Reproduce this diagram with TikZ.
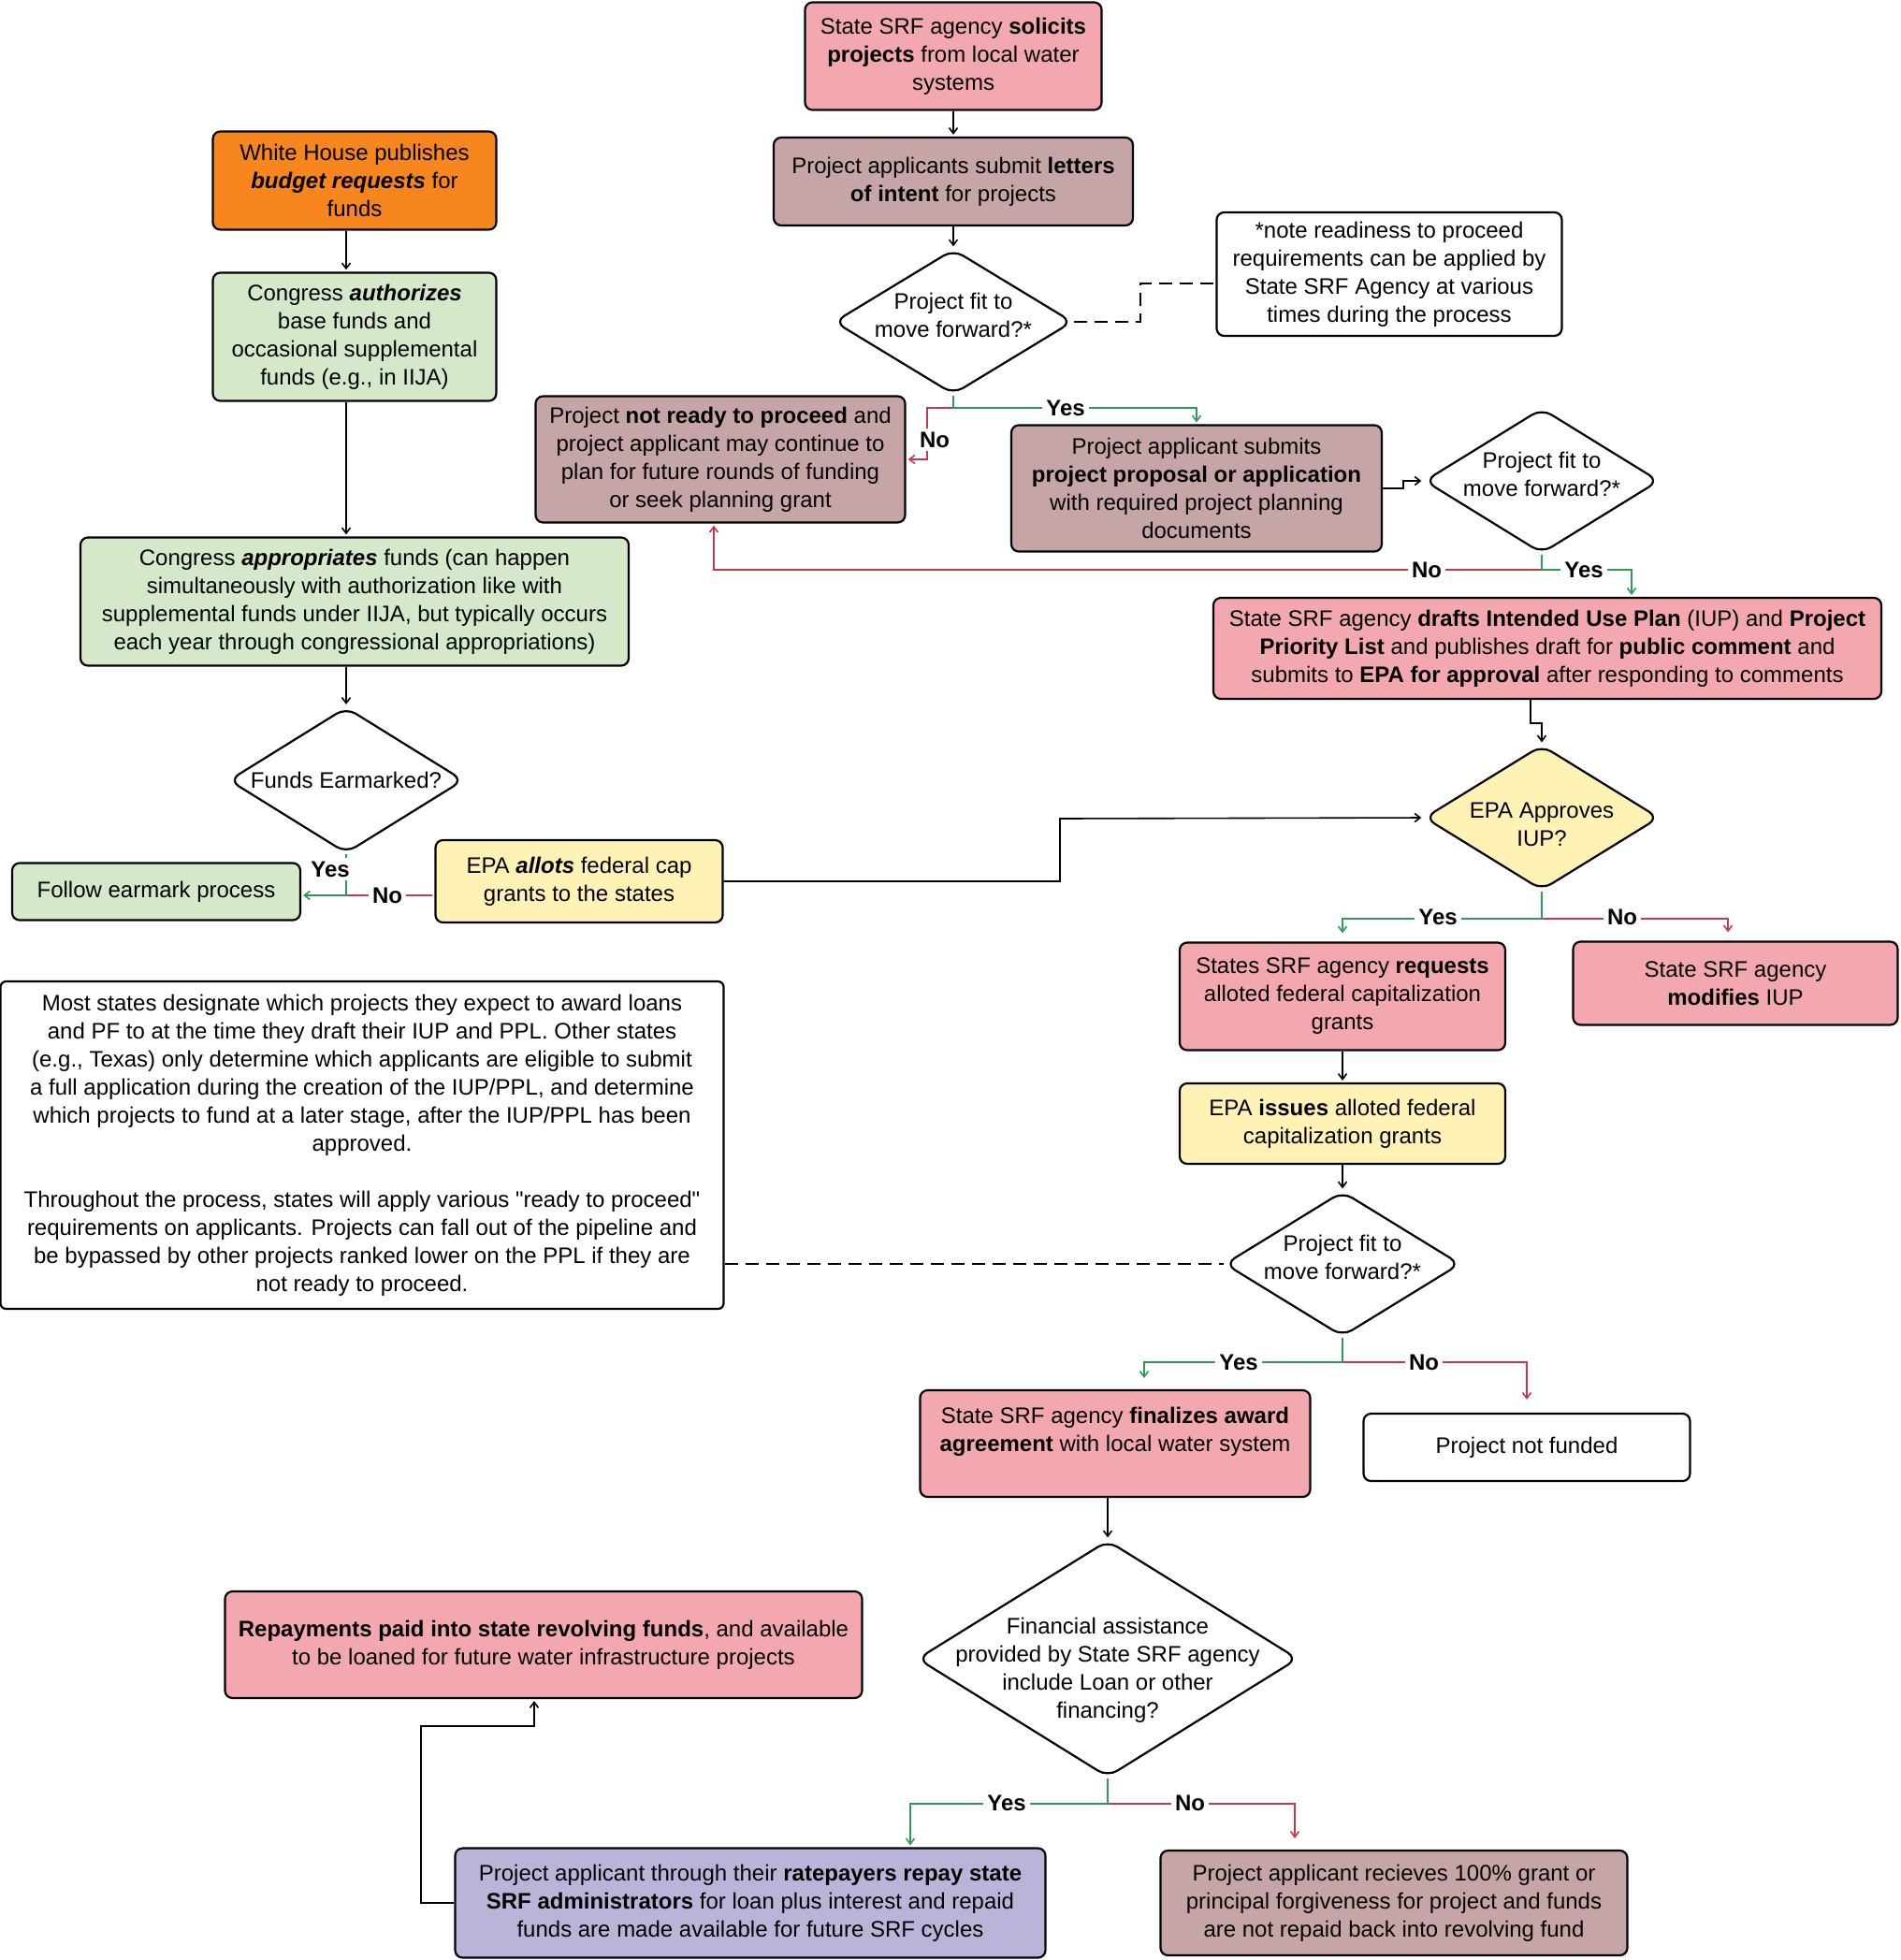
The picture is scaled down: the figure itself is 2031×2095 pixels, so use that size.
\documentclass[tikz,border=0pt]{standalone}
\usepackage{fontspec}
\setmainfont{Liberation Sans}
\usetikzlibrary{shapes.geometric,arrows.meta}
\definecolor{cpink}{HTML}{F2A8AE}
\definecolor{cmauve}{HTML}{C5A5A6}
\definecolor{cgreen}{HTML}{D5E8C9}
\definecolor{cyellow}{HTML}{FFF2B5}
\definecolor{corange}{HTML}{F7861E}
\definecolor{cpurple}{HTML}{BCB4D8}
\definecolor{lgreen}{HTML}{2E9A58}
\definecolor{lred}{HTML}{C23A4B}
\begin{document}
\begin{tikzpicture}[x=0.5pt,y=-0.5pt,
  txt/.style={font=\fontsize{12}{15}\selectfont},
  box/.style={draw=black, line width=1.1pt, rounded corners=4pt, align=center, inner sep=0pt, txt},
  sz/.style 2 args={minimum width=#1*0.5pt, minimum height=#2*0.5pt},
  dia/.style={draw=black, line width=1.1pt, diamond, rounded corners=6pt, inner sep=0pt, fill=white},
  conn/.style={line width=0.8pt, draw=black, shorten >=1pt},
  gline/.style={conn, draw=lgreen},
  rline/.style={conn, draw=lred},
  dline/.style={line width=0.8pt, dash pattern=on 7pt off 4pt},
  tip/.tip={Straight Barb[length=3pt,width=4.5pt]},
  lbl/.style={font=\fontsize{12}{14}\selectfont\bfseries, fill=white, inner sep=2pt}
]
\useasboundingbox (0,0) rectangle (2031,2095);

% ---------- top centre column ----------
\node[box, fill=cpink, sz={317}{115}] (sol) at (1019,60)
  {State SRF agency \textbf{solicits}\\ \textbf{projects} from local water\\ systems};
\node[box, fill=cmauve, sz={384}{94}] (let) at (1019,194)
  {Project applicants submit \textbf{letters}\\ \textbf{of intent} for projects};
\node[dia, sz={255}{155}, label={[txt,align=center,yshift=3.5pt]center:Project fit to\\ move forward?*}] (d1) at (1019,344) {};
\node[box, fill=white, sz={369}{132}] (note) at (1485,293)
  {*note readiness to proceed\\ requirements can be applied by\\ State SRF Agency at various\\ times during the process};
\node[box, fill=cmauve, sz={395}{135}] (nr) at (770,491)
  {Project \textbf{not ready to proceed} and\\ project applicant may continue to\\ plan for future rounds of funding\\ or seek planning grant};
\node[box, fill=cmauve, sz={396}{135}] (prop) at (1279,522)
  {Project applicant submits\\ \textbf{project proposal or application}\\ with required project planning\\ documents};
\node[dia, sz={251}{155}, label={[txt,align=center,yshift=3.5pt]center:Project fit to\\ move forward?*}] (d2) at (1648,514) {};
\node[box, fill=cpink, sz={714}{108}] (iup) at (1654,693)
  {State SRF agency \textbf{drafts Intended Use Plan} (IUP) and \textbf{Project}\\ \textbf{Priority List} and publishes draft for \textbf{public comment} and\\ submits to \textbf{EPA for approval} after responding to comments};
\node[dia, fill=cyellow, sz={251}{155}, label={[txt,align=center,yshift=-3.5pt]center:EPA Approves\\ IUP?}] (d3) at (1648,874) {};

% ---------- left column ----------
\node[box, fill=corange, sz={303}{105}] (wh) at (379,193)
  {White House publishes\\ \textbf{\textit{budget requests}} for\\ funds};
\node[box, fill=cgreen, sz={303}{137}] (ca) at (379,360)
  {Congress \textbf{\textit{authorizes}}\\ base funds and\\ occasional supplemental\\ funds (e.g., in IIJA)};
\node[box, fill=cgreen, sz={586}{137}] (app) at (379,643)
  {Congress \textbf{\textit{appropriates}} funds (can happen\\ simultaneously with authorization like with\\ supplemental funds under IIJA, but typically occurs\\ each year through congressional appropriations)};
\node[dia, sz={251}{156}, label={[txt,align=center]center:Funds Earmarked?}] (fe) at (370,834) {};
\node[box, fill=cgreen, sz={308}{61}] (fol) at (167,953) {Follow earmark process};
\node[box, fill=cyellow, sz={307}{88}] (allot) at (619,942)
  {EPA \textbf{\textit{allots}} federal cap\\ grants to the states};

% ---------- middle right ----------
\node[box, fill=cpink, sz={348}{115}] (req) at (1435,1065)
  {States SRF agency \textbf{requests}\\ alloted federal capitalization\\ grants};
\node[box, fill=cpink, sz={347}{89}] (mod) at (1855,1051)
  {State SRF agency\\ \textbf{modifies} IUP};
\node[box, fill=cyellow, sz={348}{86}] (iss) at (1435,1201)
  {EPA \textbf{issues} alloted federal\\ capitalization grants};
\node[dia, sz={252}{155}, label={[txt,align=center,yshift=3.5pt]center:Project fit to\\ move forward?*}] (d4) at (1435,1351) {};
\node[box, fill=white, rounded corners=3pt, sz={773}{350}] (txtbox) at (387,1224)
  {Most states designate which projects they expect to award loans\\ and PF to at the time they draft their IUP and PPL. Other states\\ (e.g., Texas) only determine which applicants are eligible to submit\\ a full application during the creation of the IUP/PPL, and determine\\ which projects to fund at a later stage, after the IUP/PPL has been\\ approved.\\[15pt] Throughout the process, states will apply various \textquotedbl ready to proceed\textquotedbl\\ requirements on applicants. Projects can fall out of the pipeline and\\ be bypassed by other projects ranked lower on the PPL if they are\\ not ready to proceed.};
\node[box, fill=cpink, sz={417}{114}, text depth=15pt] (fin) at (1192,1543)
  {State SRF agency \textbf{finalizes award}\\ \textbf{agreement} with local water system};
\node[box, fill=white, sz={349}{72}] (nf) at (1632,1547) {Project not funded};
\node[dia, sz={407}{253}, label={[txt,align=center,yshift=-6pt]center:Financial assistance\\ provided by State SRF agency\\ include Loan or other\\ financing?}] (d5) at (1184,1773) {};
\node[box, fill=cpink, sz={681}{114}] (rep) at (581,1758)
  {\textbf{Repayments paid into state revolving funds}, and available\\ to be loaned for future water infrastructure projects};
\node[box, fill=cpurple, sz={631}{117}] (rate) at (802,2034)
  {Project applicant through their \textbf{ratepayers repay state}\\ \textbf{SRF administrators} for loan plus interest and repaid\\ funds are made available for future SRF cycles};
\node[box, fill=cmauve, sz={499}{112}] (grant) at (1490,2034)
  {Project applicant recieves 100\% grant or\\ principal forgiveness for project and funds\\ are not repaid back into revolving fund};

% ---------- junction coordinates ----------
\coordinate (j1) at (1019,436);
\coordinate (j2) at (1648,609);
\coordinate (je) at (370,957);
\coordinate (j3) at (1648,982);
\coordinate (j4) at (1435,1456);
\coordinate (j5) at (1184,1928);

% ---------- black connectors ----------
\draw[conn,-tip] (sol.south) -- (let.north);
\draw[conn,-tip] (let.south) -- (d1.north);
\draw[conn,-tip] (prop.east) -- ++(22,0) |- (d2.west);
\draw[conn,-tip] ([xshift=-9pt]iup.south) -- ++(0,25) -| (d3.north);
\draw[conn,-tip] ([xshift=-4.5pt]wh.south) -- ([xshift=-4.5pt]ca.north);
\draw[conn,-tip] ([xshift=-4.5pt]ca.south) -- ([xshift=-4.5pt]app.north);
\draw[conn,-tip] (fe.north |- app.south) -- (fe.north);
\draw[conn,-tip] (allot.east) -| (1133,875) -- (d3.west);
\draw[conn,-tip] (req.south) -- (iss.north);
\draw[conn,-tip] (iss.south) -- (d4.north);
\draw[conn,-tip] (d5.north |- fin.south) -- (d5.north);
\draw[conn,-tip] (rate.west) -| (450,1845) -| ([xshift=-5pt]rep.south);

% ---------- dashed ----------
\draw[dline] (d1.east) -- (1219,344) |- ([yshift=-5pt]note.west);
\draw[dline] (txtbox.east |- d4.west) -- (d4.west);

% ---------- decision branches ----------
\draw[rline,-tip] (j1) -| (991,470) |- (nr.east);
\draw[gline,-tip] (d1.south) -- (j1) -| (prop.north);

\draw[rline,-tip] (j2) -| ([xshift=-3.5pt]nr.south);
\draw[gline,-tip] (d2.south) -- (j2) -| ([xshift=45pt]iup.north);

\draw[rline] (je) -- (allot.west |- je);
\draw[gline,-tip] (fe.south) -- (je) -- (fol.east |- je);

\draw[rline,-tip,shorten >=4.5pt] (j3) -| ([xshift=-4pt]mod.north);
\draw[gline,-tip,shorten >=4.5pt] (d3.south) -- (j3) -| (req.north);

\draw[rline,-tip,shorten >=7pt] (j4) -| (nf.north);
\draw[gline,-tip,shorten >=6pt] (d4.south) -- (j4) -| ([xshift=15.5pt]fin.north);

\draw[rline,-tip,shorten >=6pt] (j5) -| ([xshift=-53pt]grant.north);
\draw[gline,-tip] (d5.south) -- (j5) -| ([xshift=85.5pt]rate.north);

% ---------- labels ----------
\node[lbl] (y1) at (1139,436) {Yes};
\node[lbl] (n1) at (999,470) {No};
\node[lbl] (n2) at (1525,609) {No};
\node[lbl] (y2) at (1693,609) {Yes};
\node[lbl] (ye) at (353,929) {Yes};
\node[lbl] (ne) at (414,957) {No};
\node[lbl] (y3) at (1537,980) {Yes};
\node[lbl] (n3) at (1734,980) {No};
\node[lbl] (y4) at (1324,1456) {Yes};
\node[lbl] (n4) at (1522,1456) {No};
\node[lbl] (y5) at (1076,1927) {Yes};
\node[lbl] (n5) at (1272,1927) {No};
\end{tikzpicture}
\end{document}
